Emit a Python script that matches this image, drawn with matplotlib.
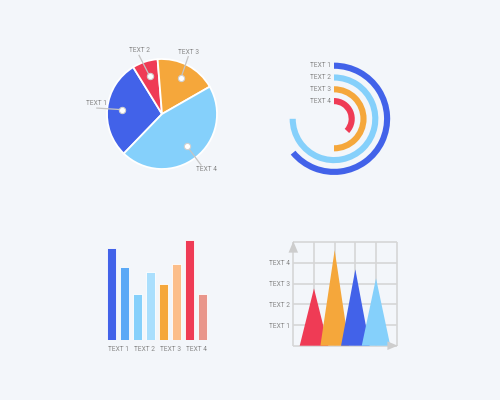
import numpy as np
import matplotlib
matplotlib.use("Agg")
import matplotlib.pyplot as plt

BG = "#f3f6fa"
TXT = "#878787"
BLUE = "#4262e9"
LBLUE = "#85d0fb"
ORANGE = "#f5a73b"
RED = "#ef3b55"

# pie data
pie_labels = ["TEXT 1", "TEXT 2", "TEXT 3", "TEXT 4"]
pie_values = [29, 7.5, 18, 45.5]
pie_colors = [BLUE, RED, ORANGE, LBLUE]

# radial (ring) data, percent of full circle
ring_labels = ["TEXT 1", "TEXT 2", "TEXT 3", "TEXT 4"]
ring_values = [64, 75, 50, 37]
ring_colors = [BLUE, LBLUE, ORANGE, RED]

# bar data
bar_values = [92, 73, 46, 68, 56, 76, 100, 46]
bar_colors = ["#4262e9", "#5ba9f6", "#85d0fb", "#aadffd",
              "#f5a73b", "#fcbe8a", "#ef3b55", "#e9968b"]
bar_labels = ["TEXT 1", "TEXT 2", "TEXT 3", "TEXT 4"]

# triangle data
tri_peaks = [1, 2, 3, 4]
tri_heights = [2.77, 4.62, 3.69, 3.26]
tri_colors = [RED, ORANGE, BLUE, LBLUE]
tri_labels = ["TEXT 1", "TEXT 2", "TEXT 3", "TEXT 4"]

plt.rcParams["font.family"] = ["Roboto", "DejaVu Sans"]
FS = 4.8

fig = plt.figure(figsize=(5, 4), dpi=100)
fig.patch.set_facecolor(BG)

# ---- pie ----
ax = fig.add_axes([0.192, 0.55, 0.264, 0.33])
ax.set_facecolor("none")
wedges, _ = ax.pie(pie_values, colors=pie_colors, startangle=226, counterclock=False,
                   wedgeprops=dict(edgecolor="white", linewidth=1.3))
# label placement (radius, angle in degrees) around the pie
label_pos = [(1.2, 171), (1.22, 110), (1.22, 67), (1.3, -51.5)]
for w, lab, (rl, al) in zip(wedges, pie_labels, label_pos):
    mid = np.deg2rad((w.theta1 + w.theta2) / 2)
    px, py = 0.73 * np.cos(mid), 0.73 * np.sin(mid)
    lx, ly = rl * np.cos(np.deg2rad(al)), rl * np.sin(np.deg2rad(al))
    ey = ly - 0.08 if ly > py else ly + 0.09
    ex = lx if ly > py else lx - 0.1
    ax.plot([px, ex], [py, ey], color="#c4c4c4", lw=0.9, clip_on=False, zorder=3)
    ax.plot(px, py, "o", ms=4.5, mfc="white", mec="#d0d0d0", mew=0.8, zorder=4)
    ax.text(lx, ly, lab, fontsize=FS, color=TXT, ha="center", va="center")
ax.set_xlim(-1.2, 1.2)
ax.set_ylim(-1.2, 1.2)
ax.set_aspect("equal")
ax.axis("off")

# ---- rings ----
ax = fig.add_axes([0.55, 0.5555, 0.236, 0.295], projection="polar")
ax.set_facecolor("none")
ax.set_theta_zero_location("N")
ax.set_theta_direction(-1)
radii = [4.5, 3.5, 2.5, 1.5]
for r, v, c, lab in zip(radii, ring_values, ring_colors, ring_labels):
    ax.barh(r, np.deg2rad(v * 3.6), height=0.52, left=0, color=c)
    ax.annotate(lab, (0, r), xytext=(-2.5, 0), textcoords="offset points",
                fontsize=FS, color=TXT, ha="right", va="center")
ax.set_ylim(0, 5)
ax.grid(False)
ax.set_xticks([])
ax.set_yticks([])
ax.spines["polar"].set_visible(False)

# ---- bars ----
ax = fig.add_axes([0.208, 0.15, 0.2132, 0.25])
ax.set_facecolor("none")
x = np.arange(len(bar_values))
ax.bar(x, bar_values, width=0.69, color=bar_colors, edgecolor="white", linewidth=0.6)
ax.set_xlim(-0.6, 7.6)
ax.set_ylim(0, 100)
ax.set_xticks([0.5, 2.5, 4.5, 6.5])
ax.set_xticklabels(bar_labels, fontsize=FS, color=TXT)
ax.tick_params(axis="x", length=0, pad=4)
ax.set_yticks([])
for s in ax.spines.values():
    s.set_visible(False)

# ---- triangles ----
ax = fig.add_axes([0.5866, 0.13575, 0.2068, 0.2585])
ax.set_facecolor("none")
grid_c = "#d6d6d6"
ax.vlines(range(6), 0, 5, color=grid_c, lw=1.2, clip_on=False, zorder=1)
ax.hlines(range(6), 0, 5, color=grid_c, lw=1.2, clip_on=False, zorder=1)
hw = 0.69
for p, h, c in zip(tri_peaks, tri_heights, tri_colors):
    ax.fill([p - hw, p, p + hw], [0, h, 0], color=c, lw=0, zorder=2)
arrow_c = "#cdcdcd"
ax.fill([-0.23, 0, 0.23], [4.5, 5.05, 4.5], color=arrow_c, lw=0, clip_on=False, zorder=3)
ax.fill([4.55, 5.05, 4.55], [-0.21, 0, 0.21], color=arrow_c, lw=0, clip_on=False, zorder=3)
ax.set_xlim(0, 5)
ax.set_ylim(0, 5)
ax.set_xticks([])
ax.set_yticks(range(1, 5))
ax.set_yticklabels(tri_labels, fontsize=FS, color=TXT)
ax.tick_params(axis="y", length=0, pad=2.5)
for s in ax.spines.values():
    s.set_visible(False)

fig.savefig("out.png", dpi=100, facecolor=BG)
